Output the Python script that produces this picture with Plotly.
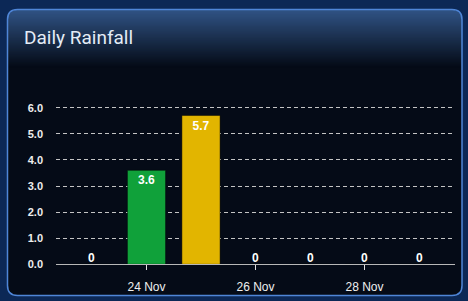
import plotly.graph_objects as go
import math

# ---- data ----
days = ["23 Nov", "24 Nov", "25 Nov", "26 Nov", "27 Nov", "28 Nov", "29 Nov"]
rain_mm = [0, 3.6, 5.7, 0, 0, 0, 0]
bar_colors = ["#10a13a", "#10a13a", "#e2b500", "#10a13a", "#10a13a", "#10a13a", "#10a13a"]
tick_days = ["24 Nov", "26 Nov", "28 Nov"]
y_ticks = [0, 1, 2, 3, 4, 5, 6]

W, H = 468, 301

def px(x):
    return x / W

def py(y):
    return 1 - y / H

label_font = dict(family="Liberation Sans", size=12, color="#ffffff", weight="bold")

fig = go.Figure()
fig.add_trace(go.Bar(
    x=days, y=rain_mm,
    marker=dict(color=bar_colors, line=dict(color="rgba(0,0,0,0.45)", width=1)),
    width=0.7,
    text=[("%g" % v) if v != 0 else "" for v in rain_mm],
    textposition="inside",
    insidetextanchor="end",
    textfont=label_font,
    cliponaxis=False,
    hoverinfo="skip",
))

# labels for zero-valued days sit right on the baseline
annotations = [dict(text="Daily Rainfall", xref="paper", yref="paper",
                    x=px(22), y=py(37), xanchor="left", yanchor="middle", showarrow=False,
                    font=dict(family="Roboto", size=19, color="#e4ecf6"))]
for d, v in zip(days, rain_mm):
    if v == 0:
        annotations.append(dict(text="%g" % v, x=d, y=v, xref="x", yref="y",
                                xanchor="center", yanchor="bottom", yshift=-3,
                                showarrow=False, font=label_font))

shapes = []
# card body
L, R, T, B, r = 7.5, 462, 9.5, 295.5, 10
def rounded_path(L, T, R, B, r):
    return (f"M {px(L+r)},{py(T)} L {px(R-r)},{py(T)} "
            f"Q {px(R)},{py(T)} {px(R)},{py(T+r)} L {px(R)},{py(B-r)} "
            f"Q {px(R)},{py(B)} {px(R-r)},{py(B)} L {px(L+r)},{py(B)} "
            f"Q {px(L)},{py(B)} {px(L)},{py(B-r)} L {px(L)},{py(T+r)} "
            f"Q {px(L)},{py(T)} {px(L+r)},{py(T)} Z")
shapes.append(dict(type="path", path=rounded_path(L, T, R, B, r), xref="paper", yref="paper",
                   fillcolor="#050b17", line=dict(width=0), layer="below"))
# header gradient stripes
top_c = (0x3f, 0x6c, 0xa9)
bot_c = (0x05, 0x0b, 0x17)
y0, y1 = T, 68
n = int(y1 - y0)
for i in range(n):
    ya = y0 + i
    yb = ya + 1.05
    t = i / (n - 1)
    c = tuple(int(round(top_c[k] + (bot_c[k] - top_c[k]) * t)) for k in range(3))
    d = (T + r) - (ya + 0.5)
    inset = r - math.sqrt(max(r * r - d * d, 0)) if d > 0 else 0
    shapes.append(dict(type="rect", xref="paper", yref="paper",
                       x0=px(L + inset), x1=px(R - inset), y0=py(yb), y1=py(ya),
                       fillcolor="rgb(%d,%d,%d)" % c, line=dict(width=0), layer="below"))
# border
shapes.append(dict(type="path", path=rounded_path(L, T, R, B, r), xref="paper", yref="paper",
                   fillcolor="rgba(0,0,0,0)", line=dict(color="#4f86d8", width=1.5), layer="below"))

fig.update_layout(
    width=W, height=H,
    margin=dict(l=0, r=0, t=0, b=0, pad=0),
    paper_bgcolor="#0c2856",
    plot_bgcolor="rgba(0,0,0,0)",
    showlegend=False,
    shapes=shapes,
    annotations=annotations,
    xaxis=dict(
        domain=[px(56), px(455)],
        type="category",
        range=[-0.66, 6.66],
        tickvals=tick_days,
        ticktext=tick_days,
        ticks="outside", ticklen=5, tickcolor="#e0e0e0", tickwidth=1,
        tickfont=dict(family="Liberation Sans", size=12, color="#f0f0f0"),
        ticklabelstandoff=6,
        showgrid=False, showline=True, linecolor="#b8b8b8", linewidth=1,
        automargin=False,
        fixedrange=True,
    ),
    yaxis=dict(
        domain=[py(264.3), py(94.65)],
        range=[0, 6.5],
        tickvals=y_ticks,
        tickformat=".1f",
        ticks="", showline=False, zeroline=False,
        showgrid=True, gridcolor="#c4c4c4", gridwidth=1, griddash="4px,3px",
        tickfont=dict(family="Liberation Sans", size=11, color="#eeeeee", weight="bold"),
        ticklabelstandoff=12,
        automargin=False,
        fixedrange=True,
    ),
)

fig.write_html("out.html")
